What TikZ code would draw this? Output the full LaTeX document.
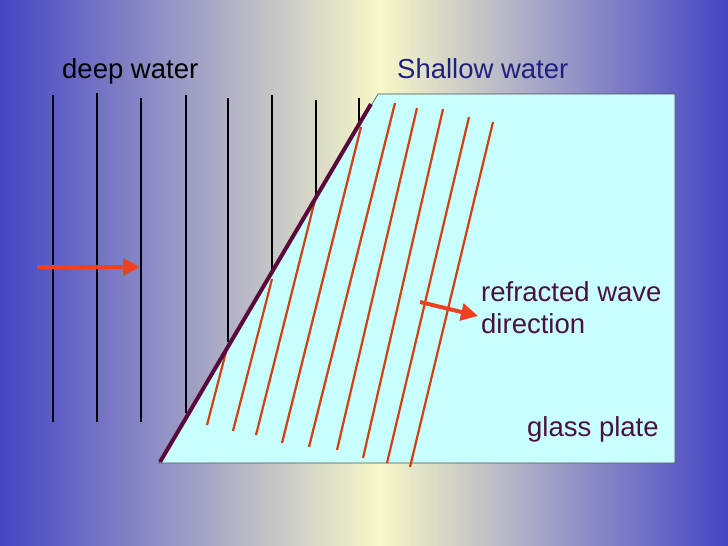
\documentclass[tikz,border=0pt]{standalone}
\usepackage{fontspec}
\setmainfont{Liberation Sans}
\usetikzlibrary{arrows.meta}
\definecolor{bgblue}{HTML}{4444C4}
\definecolor{bgyel}{HTML}{F8F8C8}
\definecolor{glass}{HTML}{C8FFFF}
\definecolor{maroon}{HTML}{5A0A3A}
\definecolor{orng}{HTML}{D04010}
\definecolor{arr}{HTML}{F04020}
\definecolor{txtblue}{HTML}{202080}
\definecolor{txtpurp}{HTML}{4A1040}
\begin{document}
\begin{tikzpicture}[x=1pt,y=-1pt,
  wave/.style={black,line width=2.2pt},
  refr/.style={orng,line width=2.2pt},
  bigarrow/.style={arr,line width=4pt,-{Triangle[length=17pt,width=17pt]}},
  lbl/.style={anchor=base west,inner sep=0pt,font=\fontsize{27.5}{30}\selectfont}]
\useasboundingbox (0,0) rectangle (728,546);
\shade[left color=bgblue,right color=bgyel] (0,0) rectangle (380,546);
\shade[left color=bgyel,right color=bgblue] (380,0) rectangle (728,546);
\fill[glass,draw=black!70,line width=0.6pt] (159,463) -- (378,94) -- (675,94) -- (675,463) -- cycle;
% incident waves
\foreach \x/\t in {53/95,97/93,141/98}{\draw[wave] (\x,\t) -- (\x,422);}
\foreach \x/\t/\b in {186/95/413,228/98/342,272/95/270,316/100/196,359/98/122}{\draw[wave] (\x,\t) -- (\x,\b);}
% refracted waves
\foreach \ax/\ay/\bx/\by in {207/425/227/348, 233/431/272/279, 256/435/316/196, 282/443/361/127, 309/447/395/103, 337/450/417/108, 363/458/443/109, 387/463/469/117, 410/467/493/122}
  {\draw[refr] (\ax,\ay) -- (\bx,\by);}
\draw[maroon,line width=4pt] (160,462) -- (371,104);
\coordinate (a1) at (37,267); \coordinate (a2) at (140,267);
\draw[bigarrow] (a1) -- (a2);
\coordinate (b1) at (420,302); \coordinate (b2) at (478,316);
\draw[bigarrow] (b1) -- (b2);
\node[lbl,black] (dw) at (62,78) {deep water};
\node[lbl,txtblue] (sw) at (397,78) {Shallow water};
\node[lbl,txtpurp] (rw) at (481,301) {refracted wave};
\node[lbl,txtpurp] (rd) at (481,333) {direction};
\node[lbl,txtpurp] (gp) at (527,436) {glass plate};
\end{tikzpicture}
\end{document}
